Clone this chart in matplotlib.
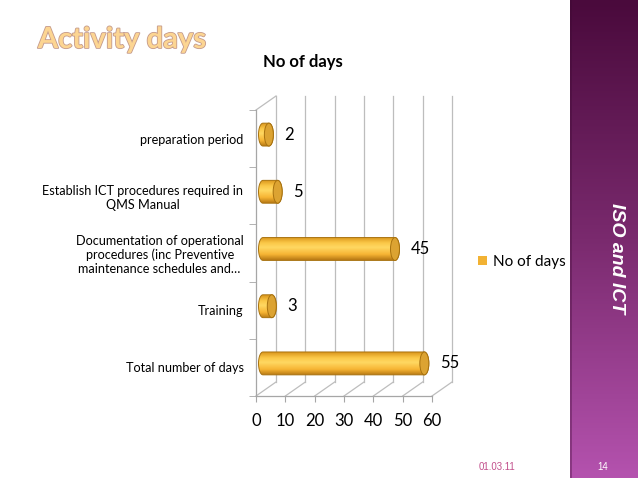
import numpy as np
import matplotlib
matplotlib.use('Agg')
import matplotlib.pyplot as plt
from matplotlib.patches import Ellipse, PathPatch, Patch
from matplotlib.path import Path
from matplotlib.colors import LinearSegmentedColormap
import matplotlib.patheffects as pe

plt.rcParams['font.family'] = ['Lato', 'DejaVu Sans']

# data
categories = ['Total number of days', 'Training',
              'Documentation of operational\nprocedures (inc Preventive\nmaintenance schedules and…',
              'Establish ICT procedures required in\nQMS Manual', 'preparation period']
days = [55, 3, 45, 5, 2]
x_ticks = [0, 10, 20, 30, 40, 50, 60]

W, H = 638, 478
fig = plt.figure(figsize=(W / 100, H / 100), dpi=100)
fig.patch.set_facecolor('white')

# purple side panel
side = fig.add_axes([570 / W, 0, 68 / W, 1])
side_cmap = LinearSegmentedColormap.from_list('side', ['#4a0a3c', '#7a2a6e', '#b452ae'])
side.imshow(np.linspace(0, 1, 200).reshape(-1, 1), aspect='auto', cmap=side_cmap,
            extent=(0, 1, 0, 1), origin='upper')
side.axvline(0.01, color='#3a0830', lw=1.2, alpha=0.4)
side.set_xlim(0, 1); side.set_ylim(0, 1); side.axis('off')
fig.text(617 / W, 1 - 258 / H, 'ISO and ICT', rotation=-90, color='white', fontsize=14,
         fontweight='bold', fontstyle='italic', ha='center', va='center', family='Liberation Sans')
fig.text(603 / W, 1 - 467 / H, '14', color='white', fontsize=7, ha='center', va='center',
         family='Liberation Sans')
fig.text(497 / W, 1 - 467 / H, '01.03.11', color='#c2508c', fontsize=7, ha='center', va='center',
         family='Liberation Sans')

# slide title
fig.text(122 / W, 1 - 40 / H, 'Activity days', fontsize=21, fontweight='bold', color='#fcd592',
         ha='center', va='center',
         path_effects=[pe.withStroke(linewidth=1.2, foreground='#c49a8c')])
fig.text(303 / W, 1 - 62 / H, 'No of days', fontsize=12, fontweight='bold', color='black',
         ha='center', va='center')

# main chart (front plane of the 3D box)
ax = fig.add_axes([256 / W, (H - 396) / H, 176 / W, 286 / H])
ax.set_xlim(0, 60); ax.set_ylim(0, 5)
px_x = 60 / 176.0   # data units per pixel
px_y = 5 / 286.0
DX, DY = 20 * px_x, 14 * px_y    # depth of the box
BX, BY = 7 * px_x, 4 * px_y      # bar plane inside the box

grid_c = '#bdbdbd'
for t in x_ticks:
    ax.plot([t + DX, t + DX], [DY, 5 + DY], color=grid_c, lw=0.9, clip_on=False, zorder=1)
    ax.plot([t, t + DX], [0, DY], color=grid_c, lw=0.9, clip_on=False, zorder=1)
ax.plot([0, DX], [5, 5 + DY], color=grid_c, lw=0.9, clip_on=False, zorder=1)

for s in ['top', 'right']:
    ax.spines[s].set_visible(False)
for s in ['left', 'bottom']:
    ax.spines[s].set_color('#a6a6a6')
    ax.spines[s].set_linewidth(0.9)

ax.set_xticks(x_ticks)
ax.set_xticklabels([str(t) for t in x_ticks], fontsize=12)
ax.tick_params(axis='x', length=4, color='#a6a6a6', pad=8)
ypos = np.arange(len(categories)) + 0.5
ax.set_yticks(ypos)
ax.set_yticklabels(categories, fontsize=9.1, multialignment='center')
ax.tick_params(axis='y', length=0, pad=9)
ax.set_yticks(np.arange(0, 6), minor=True)
ax.tick_params(axis='y', which='minor', length=5, color='#a6a6a6')
ax.set_facecolor('none')

# cylinder bars
bar_cmap = LinearSegmentedColormap.from_list(
    'gold', [(0, '#d9961c'), (0.25, '#fbc848'), (0.45, '#ffd862'), (0.75, '#f7b534'), (1, '#b87a14')])
bh = 0.40
rx = 4.5 * px_x
grad = np.linspace(0, 1, 100).reshape(-1, 1)
for y, v in zip(ypos, days):
    yc = y + BY
    x0, x1 = BX, BX + v
    t1 = np.linspace(-np.pi / 2, np.pi / 2, 40)
    right = np.column_stack([x1 + rx * np.cos(t1), yc + bh / 2 * np.sin(t1)])
    t2 = np.linspace(np.pi / 2, 3 * np.pi / 2, 40)
    left = np.column_stack([x0 + rx * np.cos(t2), yc + bh / 2 * np.sin(t2)])
    verts = np.vstack([right, left, right[:1]])
    codes = [Path.MOVETO] + [Path.LINETO] * (len(verts) - 2) + [Path.CLOSEPOLY]
    body = PathPatch(Path(verts, codes), facecolor='none', edgecolor='#a8720f', lw=0.7, zorder=4)
    ax.add_patch(body)
    im = ax.imshow(grad, aspect='auto', cmap=bar_cmap, origin='upper',
                   extent=(x0 - rx, x1 + rx, yc - bh / 2, yc + bh / 2), zorder=3)
    im.set_clip_path(body)
    ax.add_patch(Ellipse((x1, yc), 2 * rx, bh, facecolor='#dca332', edgecolor='#a8720f',
                         lw=0.7, zorder=5))
    ax.annotate(str(v), (x1 + rx, yc), xytext=(11, 0), textcoords='offset pixels',
                ha='left', va='center', fontsize=12, zorder=6, annotation_clip=False)

ax.set_xlim(0, 60); ax.set_ylim(0, 5)

fig.legend(handles=[Patch(facecolor='#f2b233', edgecolor='none')], labels=['No of days'],
           loc='center left', bbox_to_anchor=(464 / W, 1 - 262 / H), frameon=False,
           fontsize=11, handlelength=0.6, handleheight=0.6, handletextpad=0.4)

fig.savefig('out.png', dpi=100)
